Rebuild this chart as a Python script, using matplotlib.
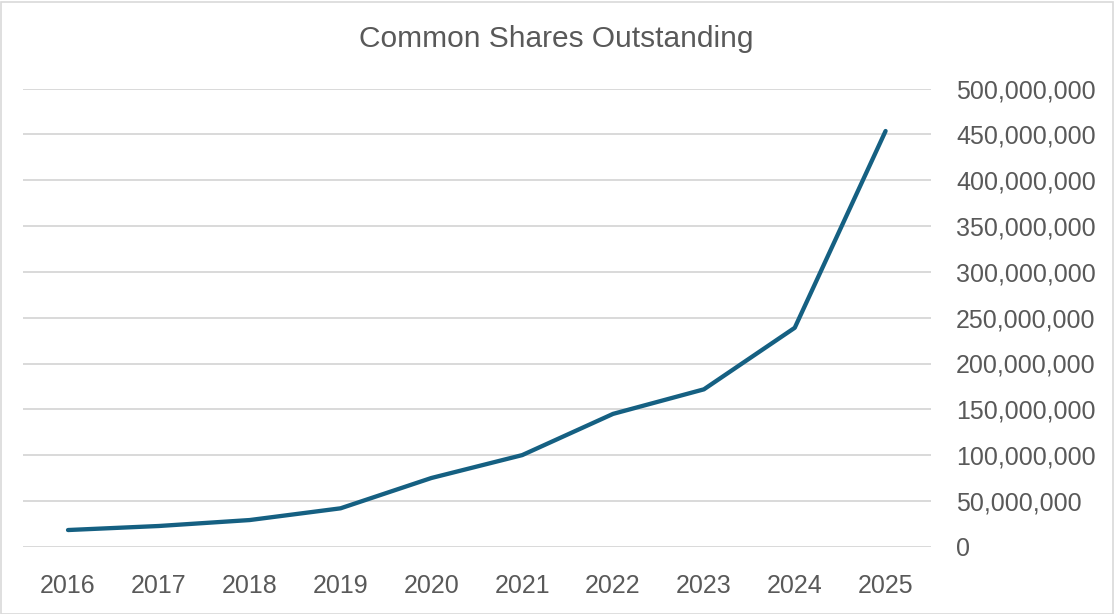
import matplotlib
matplotlib.use("Agg")
import matplotlib.pyplot as plt
from matplotlib.ticker import FuncFormatter, MultipleLocator
from matplotlib.patches import Rectangle

years = ["2016", "2017", "2018", "2019", "2020", "2021", "2022", "2023", "2024", "2025"]
shares = [18_200_000, 22_600_000, 29_100_000, 41_900_000, 75_000_000,
          100_000_000, 145_000_000, 171_800_000, 239_000_000, 453_800_000]

W, H = 1114, 614
fig = plt.figure(figsize=(W / 100, H / 100), dpi=100)
left, right, top, bottom = 22.6, 931.0, 88.7, 546.7
ax = fig.add_axes([left / W, 1 - bottom / H, (right - left) / W, (bottom - top) / H])

x = list(range(len(years)))
ax.plot(x, shares, color="#156082", linewidth=3.1, solid_capstyle="round", solid_joinstyle="round", zorder=3)

ax.set_xlim(-0.5, len(years) - 0.5)
ax.set_ylim(0, 500_000_000)
ax.yaxis.set_major_locator(MultipleLocator(50_000_000))
ax.yaxis.set_major_formatter(FuncFormatter(lambda v, p: f"{int(round(v)):,}"))
ax.yaxis.tick_right()
ax.set_xticks(x)
ax.set_xticklabels(years)
ax.grid(axis="y", color="#d9d9d9", linewidth=1.4, zorder=0)
ax.set_axisbelow(True)
for s in ax.spines.values():
    s.set_visible(False)
ax.tick_params(axis="both", length=0, labelsize=18, labelcolor="#595959")
ax.tick_params(axis="y", pad=18)
ax.tick_params(axis="x", pad=20)
for lab in ax.get_xticklabels() + ax.get_yticklabels():
    lab.set_fontfamily("Liberation Sans")

fig.text(556 / W, 1 - 39 / H, "Common Shares Outstanding", ha="center", va="center",
         fontsize=21.5, color="#595959", fontfamily="Liberation Sans")

fig.patches.append(Rectangle((0.5 / W, 0.5 / H), (W - 2) / W, (H - 2) / H, transform=fig.transFigure,
                             fill=False, edgecolor="#d9d9d9", linewidth=1.2))

fig.savefig("out.png", dpi=100, facecolor="white")
